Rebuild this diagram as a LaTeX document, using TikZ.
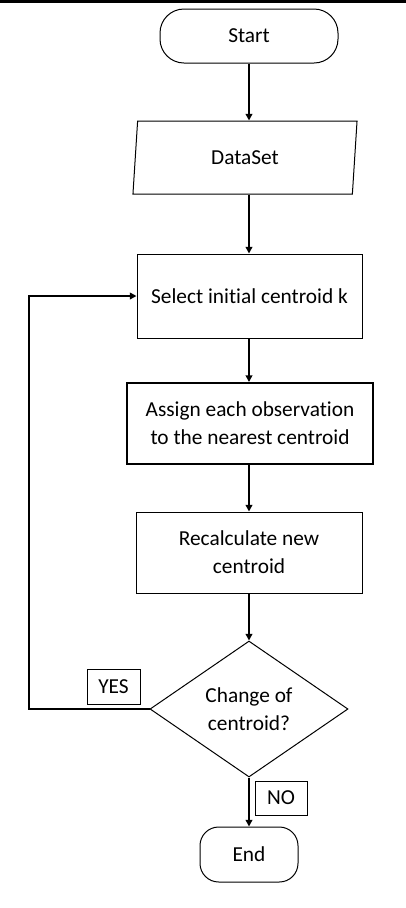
\documentclass[tikz,border=0pt]{standalone}
\usepackage{fontspec}
\setmainfont{Carlito}[Ligatures=NoCommon]
\usetikzlibrary{shapes.geometric,arrows.meta}
\begin{document}
\begin{tikzpicture}[x=0.75pt,y=-0.75pt,
    every node/.style={font=\fontsize{16}{21}\selectfont,align=center,inner sep=0pt},
    box/.style={draw,line width=0.75pt},
    flow/.style={-{Triangle[length=5pt,width=5pt]},line width=1.5pt}]
    \useasboundingbox (0,0) rectangle (406,908);
    \fill (0,0) rectangle (406,3);
    \node[box,rounded corners=18pt,minimum width=133.5pt,minimum height=40.5pt] (start) at (249,36) {Start};
    \node[box,trapezium,trapezium left angle=84,trapezium right angle=96,trapezium stretches=true,
        minimum width=168.75pt,minimum height=54.75pt] (data) at (245,157.5) {DataSet};
    \node[box,minimum width=168.75pt,minimum height=63pt] (select) at (249.5,296) {Select initial centroid k};
    \node[box,line width=1.5pt,minimum width=184.5pt,minimum height=60.75pt] (assign) at (250,423.5) {Assign each observation\\to the nearest centroid};
    \node[box,minimum width=169.5pt,minimum height=60.75pt] (recalc) at (249,552.5) {Recalculate new\\centroid};
    \node[box,diamond,minimum width=148.5pt,minimum height=102pt] (change) at (249,709) {Change of\\centroid?};
    \node[box,minimum width=39.75pt,minimum height=26.25pt] (yes) at (113.5,686.5) {YES};
    \node[box,minimum width=39pt,minimum height=25.5pt] (no) at (281,798) {NO};
    \node[box,rounded corners=14pt,minimum width=73.5pt,minimum height=41.25pt] (end) at (249,854.5) {End};
    \coordinate (back) at (29,709);
    \draw[flow] (start.south) -- (start.south |- data.north);
    \draw[flow] (data.south -| start) -- (select.north -| start);
    \draw[flow] (select.south -| start) -- (assign.north -| start);
    \draw[flow] (assign.south -| start) -- (recalc.north -| start);
    \draw[flow] (recalc.south -| start) -- (change.north);
    \draw[flow,line width=2.2pt] (change.south) -- (end.north);
    \draw[flow,line width=2.2pt] (change.west) -- (back) |- (select.west);
\end{tikzpicture}
\end{document}
